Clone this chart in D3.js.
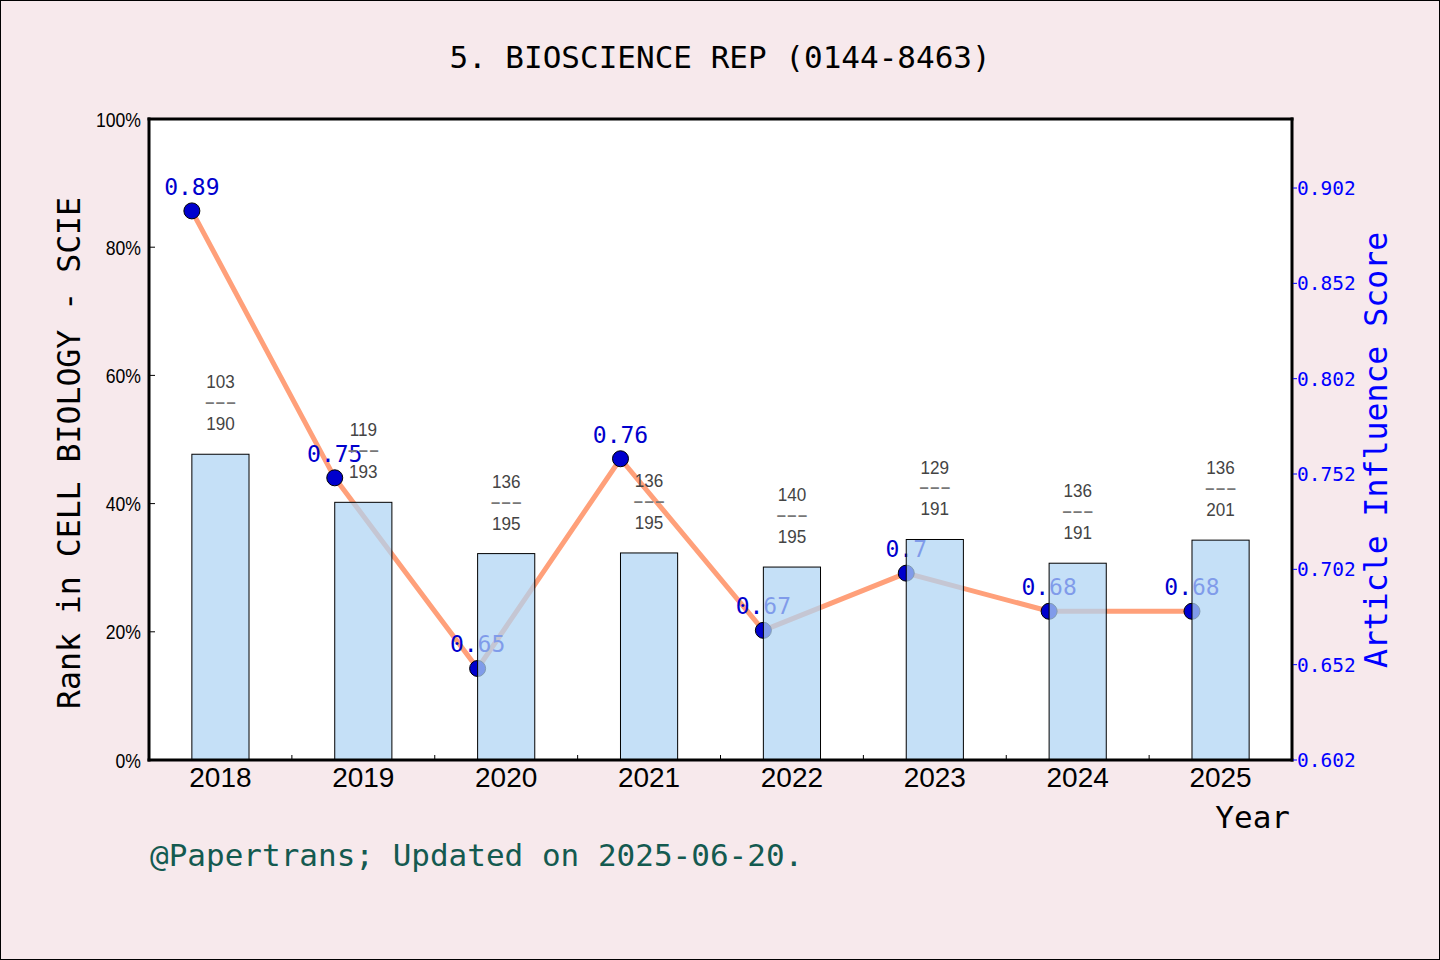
<!DOCTYPE html>
<html>
<head>
<meta charset="utf-8">
<script src="https://cdn.jsdelivr.net/npm/d3@7"></script>
<style>
  html, body { margin: 0; padding: 0; background: #f7e9ec; }
  svg { display: block; }
</style>
</head>
<body>
<svg id="chart"></svg>
<script>
const YEARS = ["2018", "2019", "2020", "2021", "2022", "2023", "2024", "2025"];
const RANK_PCT = [47.7, 40.2, 32.2, 32.3, 30.1, 34.4, 30.7, 34.3];
const RANKS = [103, 119, 136, 136, 140, 129, 136, 136];
const TOTALS = [190, 193, 195, 195, 195, 191, 191, 201];
const AIS = [0.89, 0.75, 0.65, 0.76, 0.67, 0.70, 0.68, 0.68];
const LEFT_TICKS = [0, 20, 40, 60, 80, 100];
const RIGHT_TICKS = [0.602, 0.652, 0.702, 0.752, 0.802, 0.852, 0.902];

const width = 1440, height = 960;
const margin = { top: 119, right: 148, bottom: 200, left: 149 };
const innerW = width - margin.left - margin.right;
const innerH = height - margin.top - margin.bottom;

const mono = "'DejaVu Sans Mono', 'Liberation Mono', monospace";
const sans = "'Liberation Sans', Arial, sans-serif";

const svg = d3.select("#chart")
  .attr("width", width)
  .attr("height", height)
  .attr("viewBox", `0 0 ${width} ${height}`);

// figure background + border
svg.append("rect")
  .attr("x", 0.5).attr("y", 0.5)
  .attr("width", width - 1).attr("height", height - 1)
  .attr("fill", "#f7e9ec").attr("stroke", "#000").attr("stroke-width", 1);

const g = svg.append("g")
  .attr("transform", `translate(${margin.left},${margin.top})`);

g.append("rect")
  .attr("width", innerW).attr("height", innerH)
  .attr("fill", "#fff");

const x = d3.scaleBand().domain(YEARS).range([0, innerW]);
const barW = x.step() * 0.4;
const y = d3.scaleLinear().domain([0, 100]).range([innerH, 0]);
const y2 = d3.scaleLinear().domain([0.602, 0.9382]).range([innerH, 0]);

const pts = YEARS.map((yr, i) => ({ yr, v: AIS[i] }));
const cx = d => x(d) + x.bandwidth() / 2 - barW / 2;

// AIS line (sits under the bars)
g.append("path")
  .datum(pts)
  .attr("fill", "none")
  .attr("stroke", "#ffa07a")
  .attr("stroke-width", 5)
  .attr("stroke-linejoin", "round")
  .attr("d", d3.line().x(d => cx(d.yr)).y(d => y2(d.v)));

g.selectAll(".pt")
  .data(pts)
  .join("circle")
  .attr("cx", d => cx(d.yr))
  .attr("cy", d => y2(d.v))
  .attr("r", 8)
  .attr("fill", "#0000cd")
  .attr("stroke", "#000")
  .attr("stroke-width", 1);

g.selectAll(".pt-label")
  .data(pts)
  .join("text")
  .attr("x", d => cx(d.yr))
  .attr("y", d => y2(d.v) - 16)
  .attr("text-anchor", "middle")
  .attr("fill", "#0000cd")
  .style("font-family", mono)
  .style("font-size", "23px")
  .text(d => String(d.v));

// bars
const bars = YEARS.map((yr, i) => ({ yr, p: RANK_PCT[i], rank: RANKS[i], total: TOTALS[i] }));
g.selectAll(".bar")
  .data(bars)
  .join("rect")
  .attr("x", d => x(d.yr) + x.bandwidth() / 2 - barW / 2)
  .attr("y", d => y(d.p))
  .attr("width", barW)
  .attr("height", d => innerH - y(d.p))
  .attr("fill", "rgb(176,213,244)")
  .attr("fill-opacity", 0.73)
  .attr("stroke", "#000")
  .attr("stroke-width", 1);

// rank / total labels
const lab = g.selectAll(".bar-label")
  .data(bars)
  .join("g")
  .attr("transform", d => `translate(${x(d.yr) + x.bandwidth() / 2},${y(d.p)})`)
  .attr("fill", "#444")
  .style("font-family", sans)
  .style("font-size", "19px")
  .attr("text-anchor", "middle");
lab.append("text").attr("y", -66)
  .attr("transform", "scale(0.9,1)")
  .text(d => d.rank);
lab.append("text").attr("y", -47)
  .attr("x", -16).attr("text-anchor", "start")
  .attr("textLength", 32).attr("lengthAdjust", "spacingAndGlyphs")
  .attr("fill", "#777")
  .style("font-size", "14px")
  .style("font-weight", "bold")
  .text("---");
lab.append("text").attr("y", -24)
  .attr("transform", "scale(0.9,1)")
  .text(d => d.total);

// spines
[[0, 0, innerW, 0], [0, innerH, innerW, innerH], [0, 0, 0, innerH], [innerW, 0, innerW, innerH]]
  .forEach(([x1, y1, x2, yy2]) => {
    g.append("line")
      .attr("x1", x1).attr("y1", y1).attr("x2", x2).attr("y2", yy2)
      .attr("stroke", "#000").attr("stroke-width", 3)
      .attr("stroke-linecap", "square");
  });

// left axis ticks (inward)
g.selectAll(".ly-tick")
  .data(LEFT_TICKS)
  .join("line")
  .attr("x1", 0).attr("x2", 6)
  .attr("y1", d => y(d)).attr("y2", d => y(d))
  .attr("stroke", "#000").attr("stroke-width", 1);
g.selectAll(".ly-label")
  .data(LEFT_TICKS)
  .join("text")
  .attr("transform", d => `translate(-8,${y(d)}) scale(0.84,1)`)
  .attr("dy", "0.36em")
  .attr("text-anchor", "end")
  .attr("fill", "#000")
  .style("font-family", sans)
  .style("font-size", "21px")
  .text(d => d + "%");

// right axis ticks (outward, blue)
g.selectAll(".ry-tick")
  .data(RIGHT_TICKS)
  .join("line")
  .attr("x1", innerW + 1).attr("x2", innerW + 5)
  .attr("y1", d => y2(d)).attr("y2", d => y2(d))
  .attr("stroke", "#0000ff").attr("stroke-width", 1);
g.selectAll(".ry-label")
  .data(RIGHT_TICKS)
  .join("text")
  .attr("x", innerW + 5)
  .attr("y", d => y2(d))
  .attr("dy", "0.36em")
  .attr("fill", "#0000ff")
  .style("font-family", mono)
  .style("font-size", "19.5px")
  .text(d => d3.format(".3f")(d));

// bottom axis: minor ticks at band boundaries, labels at centres
const bounds = YEARS.slice(1).map(yr => x(yr));
g.selectAll(".bx-tick")
  .data(bounds)
  .join("line")
  .attr("x1", d => d).attr("x2", d => d)
  .attr("y1", innerH).attr("y2", innerH - 5)
  .attr("stroke", "#000").attr("stroke-width", 1);
g.selectAll(".bx-label")
  .data(YEARS)
  .join("text")
  .attr("x", d => x(d) + x.bandwidth() / 2)
  .attr("y", innerH + 27)
  .attr("text-anchor", "middle")
  .attr("fill", "#000")
  .style("font-family", sans)
  .style("font-size", "28px")
  .text(d => d);

// titles
svg.append("text")
  .attr("x", 720).attr("y", 68)
  .attr("text-anchor", "middle")
  .attr("fill", "#000")
  .style("font-family", mono)
  .style("font-size", "31px")
  .text("5. BIOSCIENCE REP (0144-8463)");

svg.append("text")
  .attr("transform", "translate(80,453) rotate(-90)")
  .attr("text-anchor", "middle")
  .attr("fill", "#000")
  .style("font-family", mono)
  .style("font-size", "31.5px")
  .text("Rank in CELL BIOLOGY - SCIE");

svg.append("text")
  .attr("transform", "translate(1387,450) rotate(-90)")
  .attr("text-anchor", "middle")
  .attr("fill", "#0000ff")
  .style("font-family", mono)
  .style("font-size", "31.5px")
  .text("Article Influence Score");

svg.append("text")
  .attr("x", 1290).attr("y", 828)
  .attr("text-anchor", "end")
  .attr("fill", "#000")
  .style("font-family", mono)
  .style("font-size", "31px")
  .text("Year");

svg.append("text")
  .attr("x", 150).attr("y", 866)
  .attr("fill", "#145a50")
  .style("font-family", mono)
  .style("font-size", "31px")
  .text("@Papertrans; Updated on 2025-06-20.");
</script>
</body>
</html>
